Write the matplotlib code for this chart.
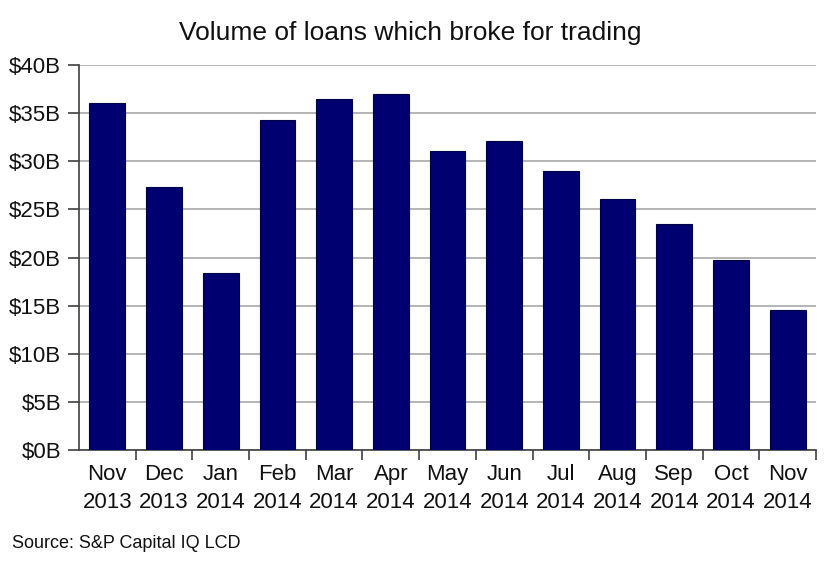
import matplotlib
matplotlib.use("Agg")
import matplotlib.pyplot as plt

months = ["Nov", "Dec", "Jan", "Feb", "Mar", "Apr", "May", "Jun", "Jul", "Aug", "Sep", "Oct", "Nov"]
years = ["2013", "2013", "2014", "2014", "2014", "2014", "2014", "2014", "2014", "2014", "2014", "2014", "2014"]
volumes = [36.1, 27.3, 18.4, 34.3, 36.5, 37.0, 31.1, 32.1, 29.0, 26.1, 23.5, 19.7, 14.5]
yticks = [0, 5, 10, 15, 20, 25, 30, 35, 40]
ytick_labels = ["$0B", "$5B", "$10B", "$15B", "$20B", "$25B", "$30B", "$35B", "$40B"]

plt.rcParams["font.family"] = ["Liberation Sans"]

fig = plt.figure(figsize=(8.25, 5.65), dpi=100)
ax = fig.add_axes([79/825, 1-450/565, (816-79)/825, (450-65)/565])

x = list(range(len(volumes)))
ax.bar(x, volumes, width=0.63, color="#000070", edgecolor="#000045", linewidth=0.8, zorder=3)

ax.set_xlim(-0.5, len(volumes) - 0.5)
ax.set_ylim(0, 40)
ax.set_yticks(yticks)
ax.set_yticklabels(ytick_labels)
ax.yaxis.grid(True, color="#A8A8A8", linewidth=1.2, zorder=0)
ax.set_axisbelow(True)

ax.set_xticks(x)
ax.set_xticklabels([f"{m}\n{y}" for m, y in zip(months, years)], linespacing=1.45)
ax.set_xticks([i - 0.5 for i in range(1, len(volumes) + 1)], minor=True)
ax.tick_params(axis="x", which="major", length=0, pad=10, labelsize=16, colors="#111111")
ax.tick_params(axis="x", which="minor", length=7, width=1.2, direction="out", color="#404040")
ax.tick_params(axis="y", length=8, width=1.2, direction="out", pad=5, labelsize=16, color="#404040", labelcolor="#111111")

for s in ["top", "right"]:
    ax.spines[s].set_visible(False)
for s in ["left", "bottom"]:
    ax.spines[s].set_color("#404040")
    ax.spines[s].set_linewidth(1.2)

fig.text(0.497, 1-33/565, "Volume of loans which broke for trading", ha="center", va="center",
         fontsize=19, color="#111111")
fig.text(12/825, 1-543/565, "Source: S&P Capital IQ LCD", ha="left", va="center",
         fontsize=13, color="#111111")

fig.savefig("out.png", dpi=100)
